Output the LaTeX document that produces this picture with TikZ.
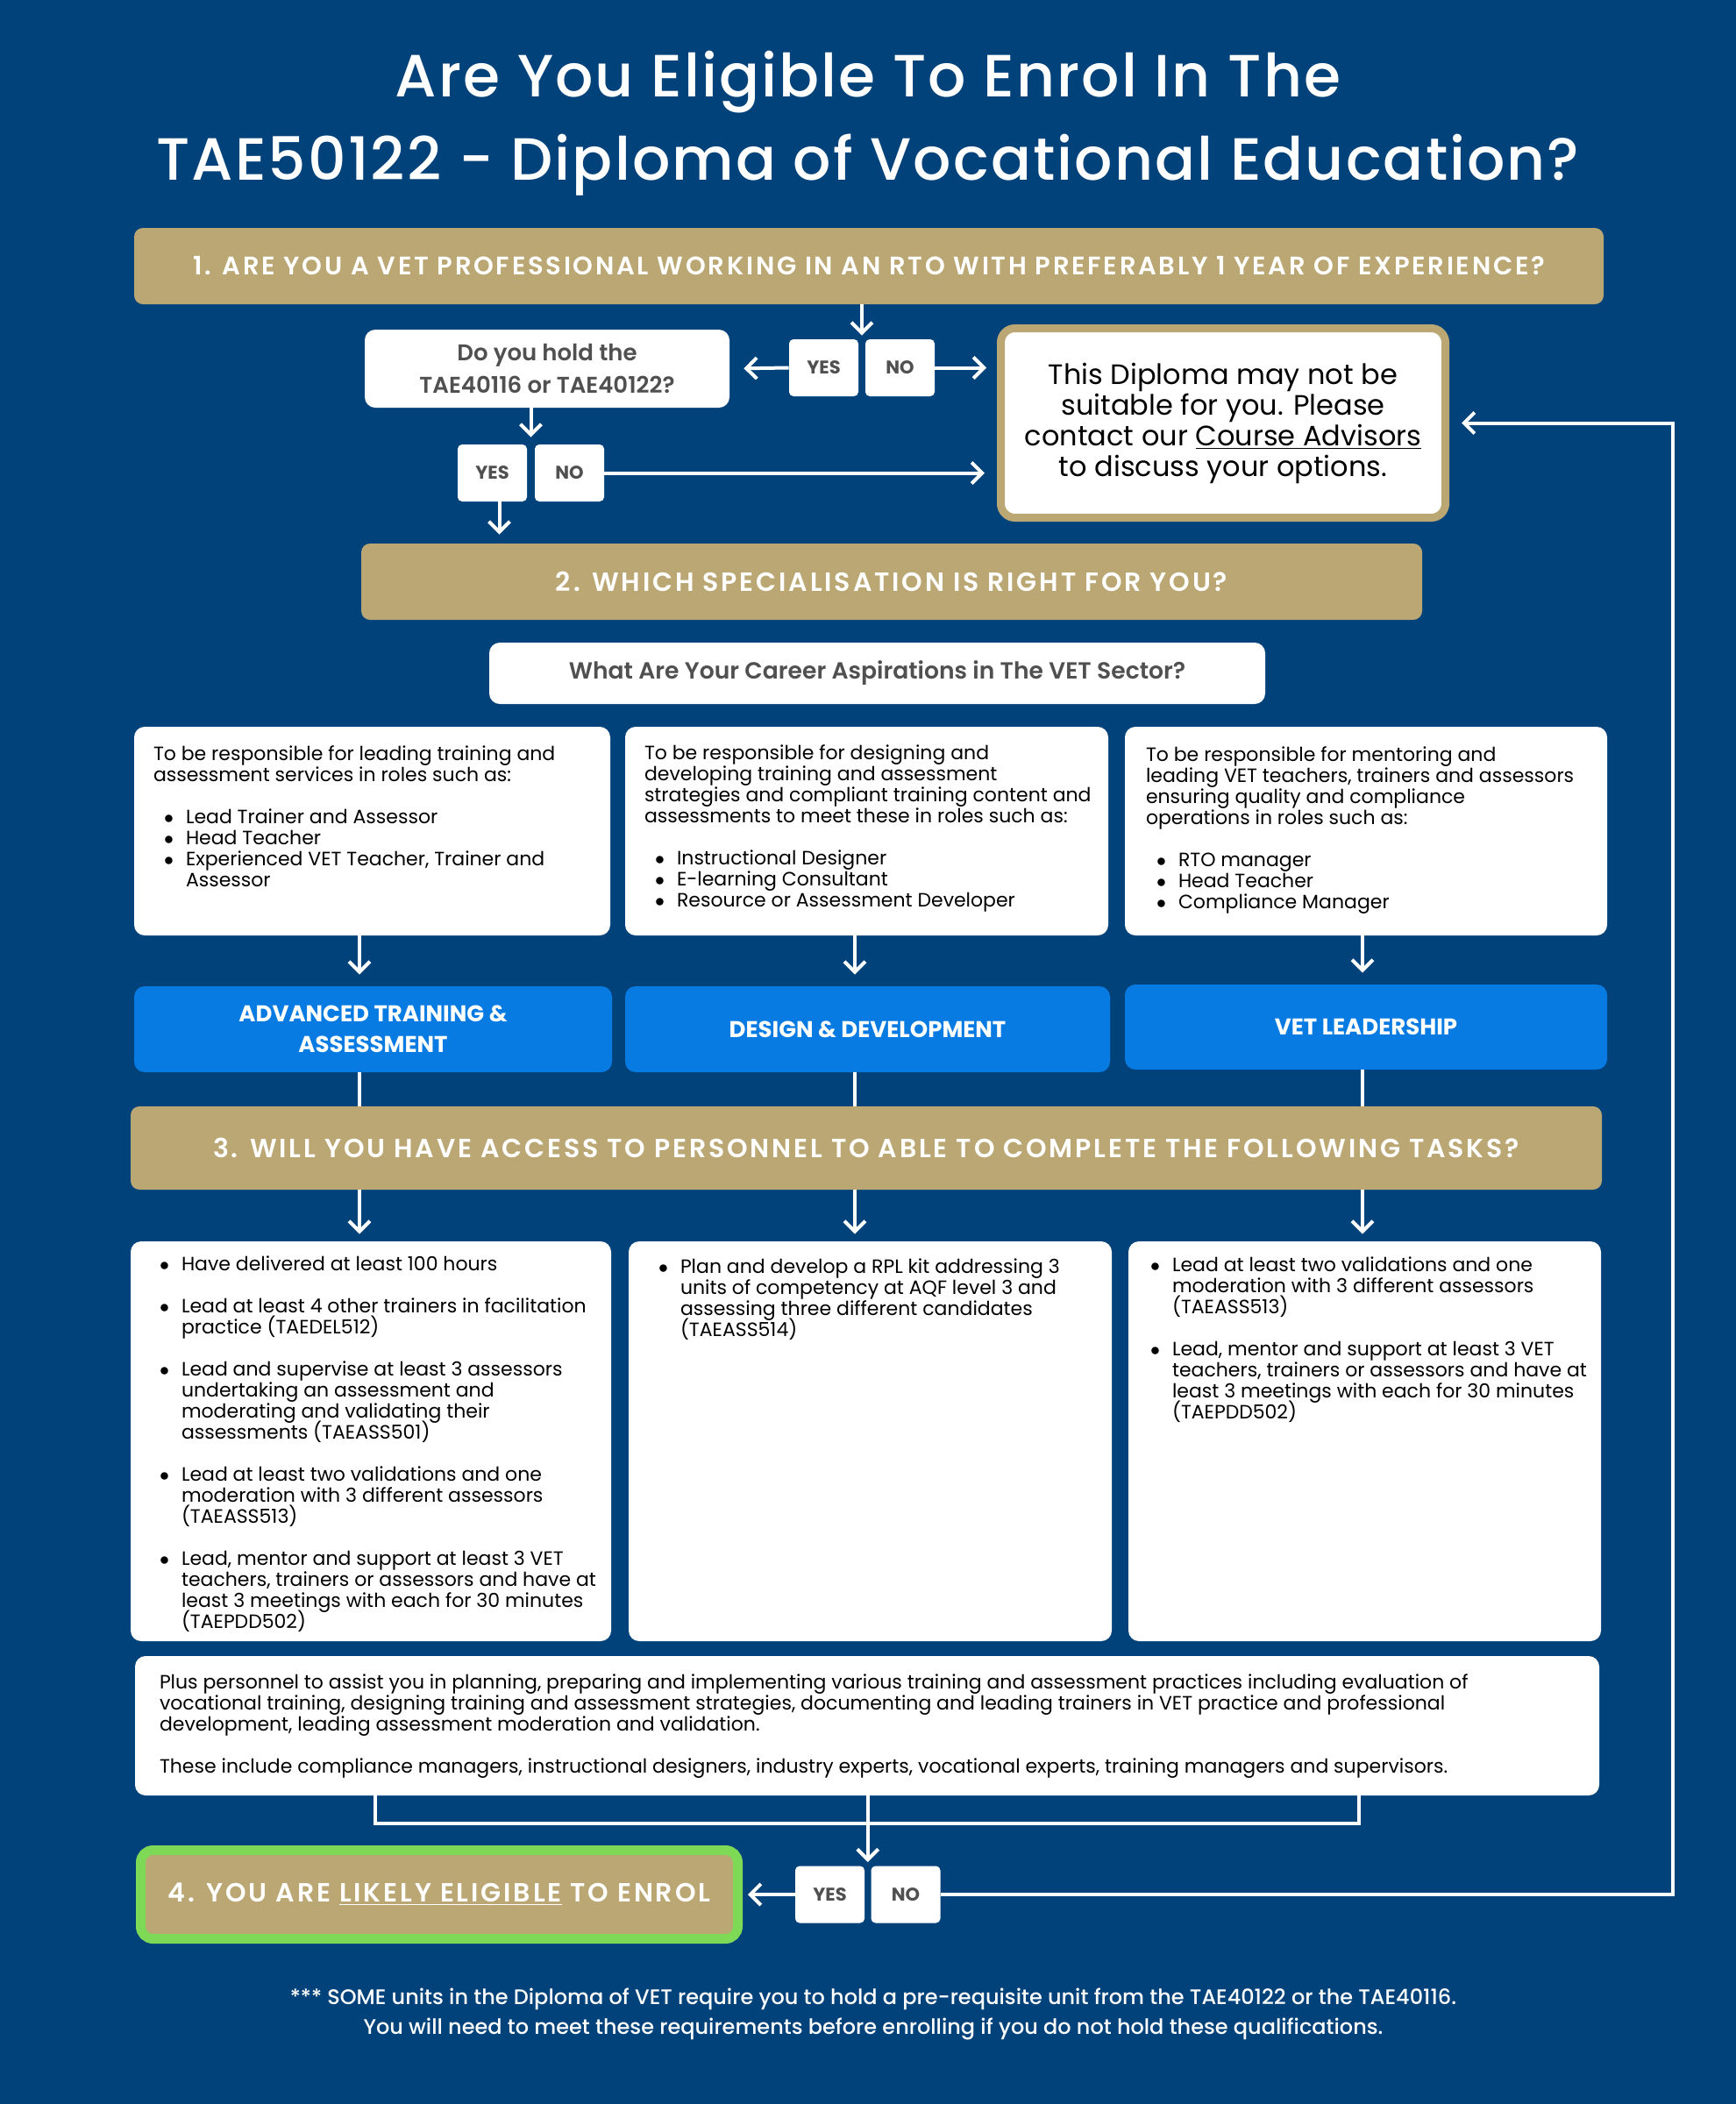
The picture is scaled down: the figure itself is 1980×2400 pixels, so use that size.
\documentclass[tikz,border=0pt]{standalone}
\usepackage{fontspec}
\setmainfont{Poppins}
\IfFontExistsTF{Poppins SemiBold}{\def\seminame{Poppins SemiBold}}{\def\seminame{Poppins Bold}}
\IfFontExistsTF{Poppins Medium}{\def\medname{Poppins Medium}}{\def\medname{Poppins}}
\newfontfamily\popsemi{\seminame}
\newfontfamily\popsemiwide{\seminame}[LetterSpace=9.5]
\newfontfamily\popmed{\medname}
\newfontfamily\popmedwide{\medname}[LetterSpace=3]
\usetikzlibrary{arrows.meta}
\usetikzlibrary{calc}

\definecolor{navy}{RGB}{2,66,122}
\definecolor{gold}{RGB}{186,167,115}
\definecolor{skyblue}{RGB}{8,123,226}
\definecolor{darkgrey}{RGB}{80,80,80}
\definecolor{limegreen}{RGB}{126,217,87}

\newcommand{\smalltxt}{\fontsize{11}{12}\selectfont\lineskiplimit=-6pt}
\newcommand{\bul}{\hspace*{6pt}\makebox[12.5pt][l]{$\bullet$}}
\newcommand{\ind}{\hspace*{18.5pt}}

\tikzset{
  banner/.style={fill=gold, rounded corners=5pt, inner sep=0pt, text=white, minimum height=43.5pt,
    font=\popsemiwide\fontsize{15}{18}\selectfont},
  whitebox/.style={fill=white, rounded corners=6pt, inner sep=0pt},
  bluebox/.style={fill=skyblue, rounded corners=6pt, inner sep=0pt, text=white, align=center,
    font=\bfseries\fontsize{13}{17.5}\selectfont},
  yesno/.style={fill=white, rounded corners=2.5pt, inner sep=0pt, minimum width=39.5pt,
    minimum height=32.5pt, text=darkgrey, font=\bfseries\fontsize{10.5}{12}\selectfont},
  bodytext/.style={anchor=north west, inner sep=0pt, align=left, font=\smalltxt},
  arr/.style={draw=white, line width=2pt, -{Straight Barb[length=6pt,width=12pt]}},
  wire/.style={draw=white, line width=2pt}
}

\begin{document}
\begin{tikzpicture}[x=0.5pt, y=-0.5pt]

    \fill[navy] (0,0) rectangle (1980,2400);
    \useasboundingbox (0,0) rectangle (1980,2400);

    % title
    \node[anchor=base, text=white, font=\popmedwide\fontsize{34}{40}\selectfont] (title1) at (990,110) {Are You Eligible To Enrol In The};
    \node[anchor=base, text=white, font=\popmedwide\fontsize{34}{40}\selectfont] (title2) at (990,205) {TAE50122 - Diploma of Vocational Education?};

    % step 1
    \node[banner, minimum width=838pt, font=\popsemiwide\fontsize{14.5}{18}\selectfont] (banner1) at (991,303.5)
        {1. ARE YOU A VET PROFESSIONAL WORKING IN AN RTO WITH PREFERABLY 1 YEAR OF EXPERIENCE?};
    \node[yesno] (yes1) at (939.5,419.5) {YES};
    \node[yesno] (no1) at (1026.5,419.5) {NO};
    \node[whitebox, minimum width=208pt, minimum height=44.5pt, align=center, text=darkgrey,
        font=\popsemi\fontsize{13}{18.5}\selectfont] (hold) at (624,420.5) {Do you hold the\\TAE40116 or TAE40122?};
    \node[fill=white, draw=gold, line width=4.5pt, rounded corners=8pt, inner sep=0pt,
        minimum width=253.5pt, minimum height=108pt, align=center,
        font=\fontsize{16}{17.5}\selectfont] (dip) at (1395,482.5)
        {This Diploma may not be\\suitable for you. Please\\contact our \underline{Course Advisors}\\to discuss your options.};
    \node[yesno] (yes2) at (561.5,539.5) {YES};
    \node[yesno] (no2) at (649.5,539.5) {NO};

    % step 2
    \node[banner, minimum width=605pt] (banner2) at (1017,663.5) {2. WHICH SPECIALISATION IS RIGHT FOR YOU?};
    \node[whitebox, minimum width=442.5pt, minimum height=35pt, text=darkgrey,
        font=\popsemi\fontsize{13.3}{15}\selectfont] (career) at (1000.5,768) {What Are Your Career Aspirations in The VET Sector?};

    \node[whitebox, minimum width=271.5pt, minimum height=119pt] (descA) at (424.5,948) {};
    \node[whitebox, minimum width=275.5pt, minimum height=119pt] (descB) at (988.5,948) {};
    \node[whitebox, minimum width=275pt, minimum height=119pt] (descC) at (1558,948) {};
    \node[bodytext] (textA) at ([xshift=11pt,yshift=-11pt]descA.north west)
        {To be responsible for leading training and\\
         assessment services in roles such as:\\[12pt]
         \bul Lead Trainer and Assessor\\
         \bul Head Teacher\\
         \bul Experienced VET Teacher, Trainer and\\
         \ind Assessor};
    \node[bodytext] (textB) at ([xshift=11pt,yshift=-10.5pt]descB.north west)
        {To be responsible for designing and\\
         developing training and assessment\\
         strategies and compliant training content and\\
         assessments to meet these in roles such as:\\[12pt]
         \bul Instructional Designer\\
         \bul E-learning Consultant\\
         \bul Resource or Assessment Developer};
    \node[bodytext] (textC) at ([xshift=12pt,yshift=-11.5pt]descC.north west)
        {To be responsible for mentoring and\\
         leading VET teachers, trainers and assessors\\
         ensuring quality and compliance\\
         operations in roles such as:\\[12pt]
         \bul RTO manager\\
         \bul Head Teacher\\
         \bul Compliance Manager};

    \node[bluebox, minimum width=272.5pt, minimum height=49pt] (blueA) at (425.5,1174) {ADVANCED TRAINING \&\\ASSESSMENT};
    \node[bluebox, minimum width=276.5pt, minimum height=49pt] (blueB) at (989.5,1174) {DESIGN \& DEVELOPMENT};
    \node[bluebox, minimum width=275pt, minimum height=48.5pt] (blueC) at (1558,1171.5) {VET LEADERSHIP};

    % step 3
    \node[banner, minimum width=839pt, minimum height=47.5pt] (banner3) at (988,1309.5)
        {3. WILL YOU HAVE ACCESS TO PERSONNEL TO ABLE TO COMPLETE THE FOLLOWING TASKS?};

    \node[whitebox, minimum width=274pt, minimum height=228pt] (taskA) at (423,1644) {};
    \node[whitebox, minimum width=275.5pt, minimum height=228pt] (taskB) at (992.5,1644) {};
    \node[whitebox, minimum width=269.5pt, minimum height=228pt] (taskC) at (1556.5,1644) {};
    \node[bodytext] (listA) at ([xshift=10.5pt,yshift=-8.5pt]taskA.north west)
        {\bul Have delivered at least 100 hours\\[12pt]
         \bul Lead at least 4 other trainers in facilitation\\
         \ind practice (TAEDEL512)\\[12pt]
         \bul Lead and supervise at least 3 assessors\\
         \ind undertaking an assessment and\\
         \ind moderating and validating their\\
         \ind assessments (TAEASS501)\\[12pt]
         \bul Lead at least two validations and one\\
         \ind moderation with 3 different assessors\\
         \ind (TAEASS513)\\[12pt]
         \bul Lead, mentor and support at least 3 VET\\
         \ind teachers, trainers or assessors and have at\\
         \ind least 3 meetings with each for 30 minutes\\
         \ind (TAEPDD502)};
    \node[bodytext] (listB) at ([xshift=11pt,yshift=-10pt]taskB.north west)
        {\bul Plan and develop a RPL kit addressing 3\\
         \ind units of competency at AQF level 3 and\\
         \ind assessing three different candidates\\
         \ind (TAEASS514)};
    \node[bodytext] (listC) at ([xshift=6.5pt,yshift=-9pt]taskC.north west)
        {\bul Lead at least two validations and one\\
         \ind moderation with 3 different assessors\\
         \ind (TAEASS513)\\[12pt]
         \bul Lead, mentor and support at least 3 VET\\
         \ind teachers, trainers or assessors and have at\\
         \ind least 3 meetings with each for 30 minutes\\
         \ind (TAEPDD502)};

    \node[whitebox, minimum width=835pt, minimum height=79.5pt] (extra) at (989,1968.5) {};
    \node[bodytext] (extratext) at ([xshift=14pt,yshift=-10.5pt]extra.north west)
        {Plus personnel to assist you in planning, preparing and implementing various training and assessment practices including evaluation of\\
         vocational training, designing training and assessment strategies, documenting and leading trainers in VET practice and professional\\
         development, leading assessment moderation and validation.\\[12pt]
         These include compliance managers, instructional designers, industry experts, vocational experts, training managers and supervisors.};

    % step 4
    \node[fill=gold, draw=limegreen, line width=5.5pt, rounded corners=7pt, inner sep=0pt,
        minimum width=340.5pt, minimum height=50.5pt, text=white,
        font=\popsemiwide\fontsize{15}{18}\selectfont] (enrol) at (501,2161)
        {4. YOU ARE \underline{LIKELY ELIGIBLE} TO ENROL};
    \node[yesno] (yes3) at (946.5,2161) {YES};
    \node[yesno] (no3) at (1033,2161) {NO};

    \node[align=center, text=white, font=\popmed\fontsize{12}{17}\selectfont] (note) at (996,2297)
        {*** SOME units in the Diploma of VET require you to hold a pre-requisite unit from the TAE40122 or the TAE40116.\\
         You will need to meet these requirements before enrolling if you do not hold these qualifications.};

    % connectors
    \coordinate (gap1) at ($(yes1.north east)!.5!(no1.north west)$);
    \coordinate (gap2) at ($(hold.south -| yes2.north east)!.5!(no2.north west)$);
    \coordinate (gap3) at ($(yes3.north east)!.5!(no3.north west)$);
    \coordinate (colA) at (410,0);
    \coordinate (colB) at (975,0);
    \coordinate (colC) at (1554,0);
    \coordinate (leftknee) at (428,2080);
    \coordinate (rightknee) at (1550,2080);
    \coordinate (back) at (1908,482.5);

    \draw[arr, shorten >=2pt] (banner1.south -| gap1) -- (gap1);
    \draw[arr, shorten >=8pt] (yes1.west) -- (hold.east);
    \draw[arr, shorten >=6pt] (no1.east) -- (no1.east -| dip.west);
    \draw[arr, shorten >=4pt] (hold.south -| gap2) -- (no2.north -| gap2);
    \draw[arr, shorten >=5pt] ([xshift=4pt]yes2.south) -- ([xshift=4pt]yes2.south |- banner2.north);
    \draw[arr, shorten >=7pt] (no2.east) -- (no2.east -| dip.west);

    \foreach \c in {A,B,C} {
        \draw[arr, shorten >=6.5pt] (desc\c.south -| col\c) -- (blue\c.north -| col\c);
        \draw[wire] (blue\c.south -| col\c) -- (banner3.north -| col\c);
        \draw[arr, shorten >=4pt] (banner3.south -| col\c) -- (task\c.north -| col\c);
    }

    \draw[wire] (extra.south -| leftknee) -- (leftknee) -- (rightknee) -- (extra.south -| rightknee);
    \draw[arr, shorten >=2pt] (extra.south -| gap3) -- (gap3);
    \draw[arr, shorten >=3pt] (yes3.west) -- (enrol.east);
    \draw[arr, shorten >=7pt] (no3.east) -| (back) -- (dip.east);

\end{tikzpicture}
\end{document}
